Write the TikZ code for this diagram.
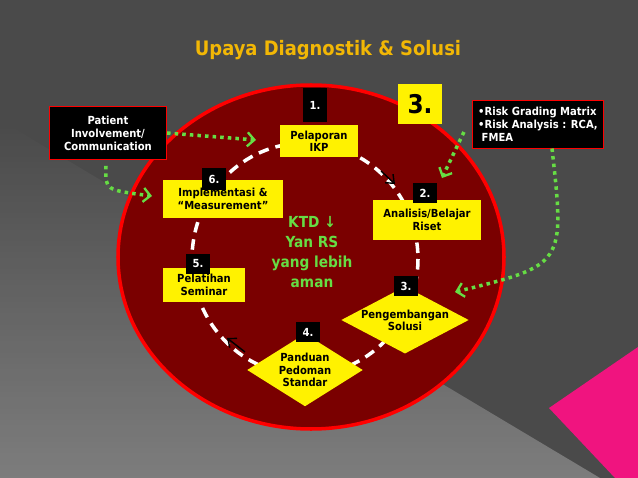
\documentclass[tikz,border=0pt]{standalone}
\usepackage{fontspec}
\setmainfont{DejaVu Sans Condensed}
\usetikzlibrary{arrows.meta,shapes.geometric}
\definecolor{bgdark}{HTML}{4A4A4A}
\definecolor{bglight}{HTML}{8A8A8A}
\definecolor{disc}{HTML}{7A0000}
\definecolor{titleor}{HTML}{F2B705}
\definecolor{ktdgreen}{HTML}{66DD44}
\definecolor{pinkish}{HTML}{F0147F}
\tikzset{
  stage/.style={fill=yellow, font=\bfseries\fontsize{9.5}{10.5}\selectfont, align=center, inner sep=2pt},
  stagediam/.style={stage, diamond, aspect=1.9, inner sep=0pt},
  num/.style={fill=black, text=white, font=\bfseries\fontsize{9.5}{10}\selectfont, minimum width=20pt, minimum height=17pt, inner sep=1pt},
  infobox/.style={fill=black, draw=red, thick, text=white, font=\bfseries\fontsize{9.5}{11}\selectfont, inner sep=3pt},
  hint/.style={ktdgreen, line width=3pt, dash pattern=on 3pt off 3.5pt, -{Straight Barb[length=6pt,width=12pt,line width=2pt]}},
}
\begin{document}
\begin{tikzpicture}[x=0.03cm,y=-0.03cm]

% Background
\fill [bgdark] (0,0) rectangle (638,478);
\shade [top color=bgdark, bottom color=bglight, opacity=0.8] (0,120) -- (600,478) -- (0,478) -- cycle;
\fill [pinkish] (638,347) -- (549,408) -- (615,478) -- (638,478) -- cycle;
\useasboundingbox (0,0) rectangle (638,478);

% Title
\node [text=titleor, font=\bfseries\fontsize{17}{20}\selectfont] (title) at (328,50) {Upaya Diagnostik \& Solusi};

% Disc
\draw [red, line width=3pt, fill=disc] (311,257) ellipse [x radius=193, y radius=172];

% Cycle
\draw [white, line width=3pt, dash pattern=on 9pt off 6pt] (305,259) ellipse [x radius=113, y radius=116];
\draw [black, line width=1.2pt, -{Straight Barb[length=6pt,width=10pt]}] (381,171) -- (395,184);
\draw [black, line width=1.2pt, -{Straight Barb[length=6pt,width=10pt]}] (245,352) -- (227,338);

% Steps
\node [stage, minimum width=66pt, minimum height=27pt] (lapor) at (319,141) {Pelaporan\\IKP};
\node [num, minimum height=29pt] (n1) at (315,105) {1\\.};
\node [fill=yellow, font=\bfseries\fontsize{22}{22}\selectfont, minimum width=37pt, minimum height=34pt, inner sep=0pt] (big3) at (420,104) {3.};

\node [stage, minimum width=92pt, minimum height=34pt] (analisis) at (427,220) {Analisis/Belajar\\Riset};
\node [num] (n2) at (425,193) {2.};

\node [stagediam, minimum width=100pt, minimum height=52pt] (solusi) at (405,320) {Pengembangan\\Solusi};
\node [num] (n3) at (406,286) {3.};

\node [stagediam, minimum width=86pt, minimum height=62pt] (panduan) at (305,370) {Panduan\\Pedoman\\Standar};
\node [num] (n4) at (308,332) {4.};

\node [stage, minimum width=70pt, minimum height=29pt] (latih) at (204,285) {Pelatihan\\Seminar};
\node [num] (n5) at (198,264) {5.};

\node [stage, minimum width=103pt, minimum height=32pt] (impl) at (223,199) {Implementasi \&\\``Measurement''};
\node [num, minimum height=18pt] (n6) at (214,179) {6.};

% Centre text
\node [text=ktdgreen, font=\bfseries\fontsize{13}{17}\selectfont, align=center] (ktd) at (312,252) {KTD ↓\\Yan RS\\yang lebih\\aman};

% Outside boxes
\node [infobox, align=center, minimum width=100pt, minimum height=45pt] (patient) at (108,133) {Patient\\Involvement/\\Communication};
\node [infobox, align=left, minimum width=112pt, minimum height=41pt] (risk) at (538,124) {•Risk Grading Matrix\\•Risk Analysis : RCA,\\\ FMEA};

% Hints
\coordinate (p1) at (256,140);
\coordinate (p2) at (152,196);
\coordinate (r1) at (442,178);
\coordinate (r2) at (455,292);
\draw [hint] (patient.east) -- (p1);
\draw [hint] (patient.south) ++(-2,6) .. controls (105,190) .. (p2);
\draw [hint] (risk.west) ++(-8,8) -- (r1);
\draw [hint] (risk.south) ++(14,0) .. controls (565,265) .. (r2);

\end{tikzpicture}
\end{document}
